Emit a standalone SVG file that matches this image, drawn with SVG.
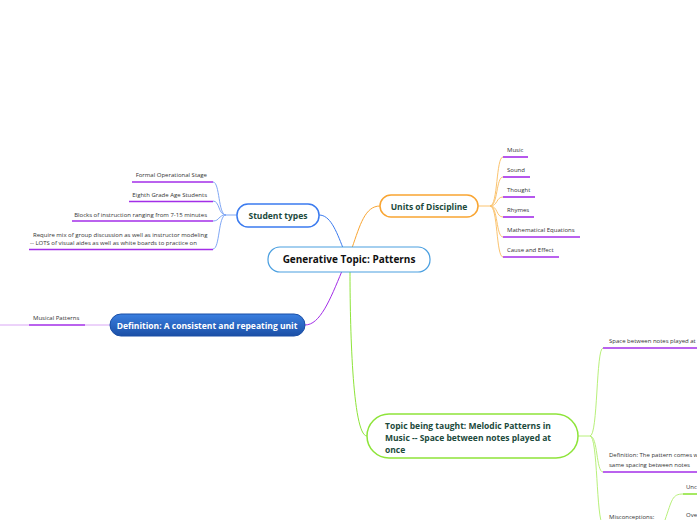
<svg xmlns="http://www.w3.org/2000/svg" width="697" height="520" viewBox="0 0 697 520">
<defs>
<linearGradient id="bg" x1="0" y1="0" x2="0" y2="1"><stop offset="0" stop-color="#3a7fe0"/><stop offset="1" stop-color="#1b4fa6"/></linearGradient>
<style>
text{font-family:"Open Sans","Noto Sans",sans-serif}
.n{font-size:8.5px;font-weight:bold;fill:#1c4a3c;text-anchor:middle}
.l{font-size:6px;fill:#333}
.u{stroke:#a32ee8;stroke-width:1.6;fill:none}
.c{fill:none;stroke-width:1}
</style>
</defs>
<rect width="697" height="520" fill="#fff"/>
<g id="connectors">
<path class="c" stroke="#3b7bef" stroke-width="1.5" d="M343 248 C336 230 330 215 319 215"/>
<path class="c" stroke="#f9a532" stroke-width="1.5" d="M352 248 C360 225 365 206 380 206"/>
<path class="c" stroke="#a32ee8" stroke-width="1.5" d="M342 271 C330 300 320 325 305 325"/>
<path class="c" stroke="#8ee43a" stroke-width="1.5" d="M350 272 C350 320 352 436 367 436"/>
<g stroke="#7fa7f5" class="c">
<path d="M237 215 H226 C218 215 220 182 213 182"/>
<path d="M226 215 C218 215 220 201 213 201"/>
<path d="M226 215 C218 215 220 221 213 221"/>
<path d="M226 215 C218 215 220 249 213 249"/>
</g>
<g stroke="#fbc36e" class="c">
<path d="M478 206 H490 C498 206 496 157 503 157"/>
<path d="M490 206 C498 206 496 177 503 177"/>
<path d="M490 206 C498 206 496 197 503 197"/>
<path d="M490 206 C498 206 496 217 503 217"/>
<path d="M490 206 C498 206 496 237 503 237"/>
<path d="M490 206 C498 206 496 257 503 257"/>
</g>
<path class="c" stroke="#d9a6f5" stroke-width="1.5" d="M110 325 H85 M29 325 H0"/>
<g stroke="#b8f07a" class="c">
<path d="M578 436 H590 C598 436 596 348 603 348"/>
<path d="M590 436 C598 436 596 472 603 472"/>
<path d="M590 436 C598 436 596 520 603 525"/>
<path d="M665 520 C672 500 672 494 683 494"/>
</g>
</g>
<g id="central"><rect x="268" y="247" width="162" height="25" rx="12" fill="#fff" stroke="#4a9fe0" stroke-width="1.2"/><text class="n" x="349" y="263" style="font-size:10px;fill:#111">Generative Topic: Patterns</text></g>
<g id="student-types"><rect x="237" y="204" width="82" height="23" rx="11" fill="#fff" stroke="#3b7bef" stroke-width="1.5"/><text class="n" x="278" y="219">Student types</text></g>
<g id="st-leaves">
<text class="l" x="207" y="177" text-anchor="end">Formal Operational Stage</text><path class="u" d="M132 182 H213"/>
<text class="l" x="207" y="197" text-anchor="end">Eighth Grade Age Students</text><path class="u" d="M129 201.5 H213"/>
<text class="l" x="207" y="217" text-anchor="end">Blocks of instruction ranging from 7-15 minutes</text><path class="u" d="M72 221 H213"/>
<text class="l" x="33" y="237">Require mix of group discussion as well as instructor modeling</text>
<text class="l" x="30" y="245">-- LOTS of visual aides as well as white boards to practice on</text><path class="u" d="M29 249.5 H213"/>
</g>
<g id="units"><rect x="380" y="195" width="98" height="22" rx="11" fill="#fff" stroke="#f9a532" stroke-width="1.5"/><text class="n" x="429" y="210">Units of Discipline</text></g>
<g id="units-leaves">
<text class="l" x="507" y="152">Music</text><path class="u" d="M503 157 H528"/>
<text class="l" x="507" y="172">Sound</text><path class="u" d="M503 177 H530"/>
<text class="l" x="507" y="192">Thought</text><path class="u" d="M503 197 H535"/>
<text class="l" x="507" y="212">Rhymes</text><path class="u" d="M503 217 H534"/>
<text class="l" x="507" y="232">Mathematical Equations</text><path class="u" d="M503 237 H580"/>
<text class="l" x="507" y="252">Cause and Effect</text><path class="u" d="M503 257 H559"/>
</g>
<g id="definition"><rect x="110" y="314" width="195" height="22" rx="11" fill="url(#bg)" stroke="#1b4fa6"/><text class="n" x="207" y="328.5" style="fill:#fff">Definition: A consistent and repeating unit</text></g>
<g id="musical-patterns"><text class="l" x="33" y="320">Musical Patterns</text><path class="u" d="M29 325 H85"/></g>
<g id="topic"><rect x="367" y="414" width="211" height="44" rx="22" fill="#fff" stroke="#8ee43a" stroke-width="1.5"/>
<text class="n" style="text-anchor:start" x="385" y="429">Topic being taught: Melodic Patterns in</text>
<text class="n" style="text-anchor:start" x="385" y="441">Music -- Space between notes played at</text>
<text class="n" style="text-anchor:start" x="385" y="453">once</text></g>
<g id="topic-leaves">
<text class="l" x="609" y="343">Space between notes played at</text><path class="u" d="M603 348 H697"/>
<text class="l" x="609" y="457">Definition: The pattern comes w</text>
<text class="l" x="609" y="467">same spacing between notes</text><path class="u" d="M603 472 H697"/>
<text class="l" x="609" y="519">Misconceptions:</text>
<text class="l" x="686" y="489">Unc</text><path d="M683 494 H697" stroke="#8ee43a" stroke-width="1.6"/>
<text class="l" x="686" y="517">Ove</text>
</g>
</svg>
